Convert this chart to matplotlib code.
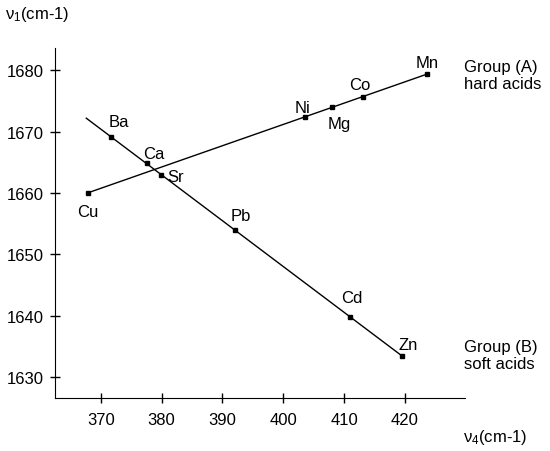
import numpy as np
import matplotlib
matplotlib.use("Agg")
import matplotlib.pyplot as plt

plt.rcParams["font.family"] = ["Liberation Sans", "DejaVu Sans"]
plt.rcParams["mathtext.fontset"] = "custom"
plt.rcParams["mathtext.rm"] = "Liberation Sans"
plt.rcParams["mathtext.it"] = "Liberation Sans"

# === Data (nu4, nu1) ===
hard_metals = ["Cu", "Ni", "Mg", "Co", "Mn"]
hard_nu4 = [367.9, 403.6, 408.0, 413.1, 423.7]
hard_nu1 = [1660.0, 1672.4, 1674.0, 1675.7, 1679.3]

soft_metals = ["Ba", "Ca", "Sr", "Pb", "Cd", "Zn"]
soft_nu4 = [371.7, 377.6, 379.9, 392.0, 411.0, 419.6]
soft_nu1 = [1669.1, 1664.8, 1662.9, 1654.0, 1639.8, 1633.4]
soft_line_start = 367.6

x_ticks = [370, 380, 390, 400, 410, 420]
y_ticks = [1630, 1640, 1650, 1660, 1670, 1680]

# label offsets in points
offsets = {
    "Cu": (0, -13.7), "Ni": (-2.2, 7), "Mg": (5.5, -12.2), "Co": (-2.4, 8.9), "Mn": (0, 8.9),
    "Ba": (5.8, 11.5), "Ca": (5, 7.4), "Sr": (10.8, -0.7), "Pb": (4.3, 10.3),
    "Cd": (1.2, 14), "Zn": (4.3, 8.6),
}

FS = 12

fig = plt.figure(figsize=(5.5, 4.52), dpi=100)
ax = fig.add_axes([0.1005, 0.1173, 0.745, 0.7743])

# fitted lines
pa = np.polyfit(hard_nu4, hard_nu1, 1)
xa = np.array([min(hard_nu4), max(hard_nu4)])
ax.plot(xa, np.polyval(pa, xa), color="black", lw=1)

pb = np.polyfit(soft_nu4, soft_nu1, 1)
xb = np.array([soft_line_start, max(soft_nu4)])
ax.plot(xb, np.polyval(pb, xb), color="black", lw=1)

ax.plot(hard_nu4, hard_nu1, "s", color="black", ms=3.5)
ax.plot(soft_nu4, soft_nu1, "s", color="black", ms=3.5)

for names, xs, ys in [(hard_metals, hard_nu4, hard_nu1), (soft_metals, soft_nu4, soft_nu1)]:
    for n, x, y in zip(names, xs, ys):
        ax.annotate(n, (x, y), xytext=offsets[n], textcoords="offset points",
                    ha="center", va="center", fontsize=FS)

ax.set_xlim(362.5, 429.9)
ax.set_ylim(1626.6, 1683.6)
ax.set_xticks(x_ticks)
ax.set_yticks(y_ticks)
ax.tick_params(direction="inout", length=6.5, width=1, labelsize=FS)
ax.tick_params(axis="x", pad=7)
ax.tick_params(axis="y", pad=5)
for s in ["top", "right"]:
    ax.spines[s].set_visible(False)

fig.text(0.009, 0.967, r"$\mathregular{\nu_1}$(cm-1)", fontsize=FS, va="center")
fig.text(0.842, 0.032, r"$\mathregular{\nu_4}$(cm-1)", fontsize=FS, va="center")
fig.text(0.8436, 0.832, "Group (A)\nhard acids", fontsize=FS, va="center", linespacing=1.1)
fig.text(0.8436, 0.2124, "Group (B)\nsoft acids", fontsize=FS, va="center", linespacing=1.1)

fig.savefig("out.png", dpi=100)
